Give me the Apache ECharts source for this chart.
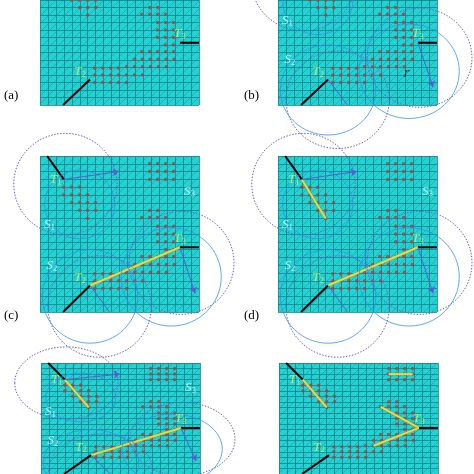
<!DOCTYPE html><html><head><meta charset="utf-8">
<script src="https://cdn.jsdelivr.net/npm/echarts@6/dist/echarts.min.js"></script>
<style>html,body{margin:0;background:#fff}#c{width:474px;height:474px}</style></head><body><div id="c"></div>
<script>
// dot positions (col,row) in grid cells, rows counted downward
const dots = [
 [3,4],[4,4],[5,4],[3,5],[4,5],[5,5],[6,5],[4,6],[5,6],[6,6],[7,6],[5,7],[6,7],[7,7],[6,8],
 [13.8,1],[14.8,1],[15.8,1],[16.8,1],[13.8,2],[14.8,2],[15.8,2],[16.8,2],[13.8,3],[14.8,3],[15.8,3],[16.8,3],
 [13.8,7],[14.8,7],[12.8,7.9],[13.8,7.9],[14.8,7.9],[15.8,7.9],[14.8,9],[15.8,9],[16.8,9],
 [14.8,10],[15.8,10],[16.8,10],[14.8,11],[15.8,11],[16.8,11],[15.8,12],[16.8,12],
 [12.8,12.9],[13.8,12.9],[14.8,12.9],[15.8,12.9],[16.8,12.9],
 [11.9,13.9],[12.9,13.9],[13.9,13.9],[14.9,13.9],[15.9,13.9],[16.9,13.9],
 [10.9,14.9],[11.9,14.9],[12.9,14.9],[13.9,14.9],[14.9,14.9],[15.9,14.9],
 [6.9,15.1],[7.9,15.1],[8.9,15.1],[9.9,15.1],
 [6.9,16],[7.9,16],[8.9,16],[9.9,16],[10.9,16],[11.9,16],[12.9,16],
 [6.9,17],[7.9,17],[8.9,17],[9.9,17],[10.9,17]
];
const T1 = [3,3], T2 = [6.3,16.6], T3 = [17.6,11.7];
const blackT1 = [[0.9,0],T1], blackT2 = [[2.9,20],T2], blackT3 = [T3,[20,11.7]];
const yellowT2T3 = [T2,T3];
const yellowT1 = [T1,[6,8]];
const yellowF1 = [[13.8,2],[16.8,2]];
const yellowF2 = [T3,[12.8,7.9]];
const yellowF3 = [T3,[11.9,14.9]];
// circles: [cx, cy, r]
const dotted = [[3.2,3.6,6.5],[7.5,19.3,6.5],[17.8,13.7,6.6]];
const solid = [[5,6.2,4.4],[6.3,18,6],[16.5,15.5,6.3]];
const arrows = [[T1,[9.9,2]],[T2,[10.3,22.2]],[T3,[19.5,17.6]]];
const panelLetters = ['(a)','(b)','(c)','(d)','(e)','(f)'];

const panels = [
 {l:40,t:0,h:105,ymin:6,circ:false,y:[]},
 {l:278,t:0,h:105,ymin:6,circ:true,r:true,y:[]},
 {l:40,t:156,h:156,ymin:0,circ:true,y:[yellowT2T3]},
 {l:278,t:156,h:156,ymin:0,circ:true,y:[yellowT1,yellowT2T3]},
 {l:41,t:363,h:156,ymin:0,circ:true,y:[yellowT1,yellowT2T3]},
 {l:279,t:363,h:156,ymin:0,circ:false,y:[yellowT1,yellowF1,yellowF2,yellowF3]}
];
const letterPos = [[4,103],[244,103],[4,323],[244,323],[4,560],[244,560]];

const cv = document.createElement('canvas'); cv.width=8; cv.height=8;
const cx = cv.getContext('2d'); cx.fillStyle='#22d3d3'; cx.fillRect(0,0,8,8);
cx.strokeStyle='rgba(20,110,120,0.45)'; cx.lineWidth=0.7; cx.beginPath(); cx.moveTo(0,8); cx.lineTo(8,0); cx.stroke();

const grid=[],xAxis=[],yAxis=[],series=[],graphic=[];
function circleSeries(i,data,dash,color,z){
 return {type:'custom',xAxisIndex:i,yAxisIndex:i,data:data,z:z,clip:false,silent:true,
  renderItem:(p,api)=>{const c=api.coord([api.value(0),api.value(1)]);const s=api.size([api.value(2),api.value(2)]);
   return {type:'ellipse',shape:{cx:c[0],cy:c[1],rx:s[0],ry:s[1]},style:{fill:'none',stroke:color,lineWidth:1,lineDash:dash?[1.5,1.5]:null}};}};
}
function lbl(i,pos,main,sub,color,dx,dy){
 return {type:'scatter',xAxisIndex:i,yAxisIndex:i,data:[pos],symbolSize:0,z:20,silent:true,
  label:{show:true,formatter:'{m|'+main+'}{s|'+sub+'}',offset:[dx,dy],
   rich:{m:{fontFamily:'Liberation Serif',fontStyle:'italic',fontSize:13,color:color},s:{fontFamily:'Liberation Serif',fontSize:9,color:color,verticalAlign:'bottom',padding:[6,0,0,0]}}}};
}
panels.forEach((p,i)=>{
 grid.push({left:p.l,top:p.t,width:159,height:p.h,show:true,backgroundColor:{image:cv,repeat:'repeat'},borderWidth:0});
 xAxis.push({type:'value',gridIndex:i,min:0,max:20,interval:1,axisLine:{show:false},axisTick:{show:false},axisLabel:{show:false},splitLine:{lineStyle:{color:'#1a7f8a',width:0.8}}});
 yAxis.push({type:'value',gridIndex:i,min:p.ymin,max:20,interval:1,inverse:true,axisLine:{show:false},axisTick:{show:false},axisLabel:{show:false},splitLine:{lineStyle:{color:'#1a7f8a',width:0.8}}});
 series.push({type:'scatter',xAxisIndex:i,yAxisIndex:i,data:dots,symbolSize:3.5,itemStyle:{color:'#b33a3a'},z:5,silent:true});
 const blacks = i<2?[blackT2,blackT3]:[blackT1,blackT2,blackT3];
 blacks.forEach(b=>series.push({type:'line',xAxisIndex:i,yAxisIndex:i,data:b,symbol:'none',lineStyle:{color:'#000',width:2},z:6,silent:true}));
 p.y.forEach(b=>series.push({type:'line',xAxisIndex:i,yAxisIndex:i,data:b,symbol:'none',lineStyle:{color:'#e6dc3c',width:2,shadowColor:'#c07020',shadowBlur:1},z:7,silent:true}));
 if(p.circ){
  series.push(circleSeries(i,dotted,true,'#6a5fd0',8));
  series.push(circleSeries(i,solid,false,'rgba(50,140,230,0.75)',8));
  series.push({type:'lines',coordinateSystem:'cartesian2d',xAxisIndex:i,yAxisIndex:i,data:arrows.map(a=>({coords:a})),symbol:['none','arrow'],symbolSize:6,lineStyle:{color:'#5a5ad8',width:1,opacity:1},z:9,silent:true});
  series.push(lbl(i,[1.2,8.8],'S','1','#d8ffff',0,0));
  series.push(lbl(i,[1.5,14],'S','2','#d8ffff',0,0));
  series.push(lbl(i,[18.8,4.5],'S','3','#d8ffff',0,0));
 }
 if(p.r){
  series.push({type:'scatter',xAxisIndex:i,yAxisIndex:i,data:[[7.5,22.2],[16.2,15.8]],symbolSize:0,z:20,silent:true,label:{show:true,formatter:'r',fontFamily:'Liberation Serif',fontStyle:'italic',fontSize:15,color:'#000'}});
 }
 if(i>=2) series.push(lbl(i,T1,'T','1','#d8f060',-8,0));
 series.push(lbl(i,T2,'T','2','#d8f060',-10,-8));
 series.push(lbl(i,T3,'T','3','#d8f060',0,-9));
 graphic.push({type:'text',left:letterPos[i][0],top:letterPos[i][1]-14,style:{text:panelLetters[i],font:'13px "Liberation Serif"',fill:'#000'}});
});
const ch = echarts.init(document.getElementById('c'));
ch.setOption({animation:false,grid,xAxis,yAxis,series,graphic});
</script></body></html>
